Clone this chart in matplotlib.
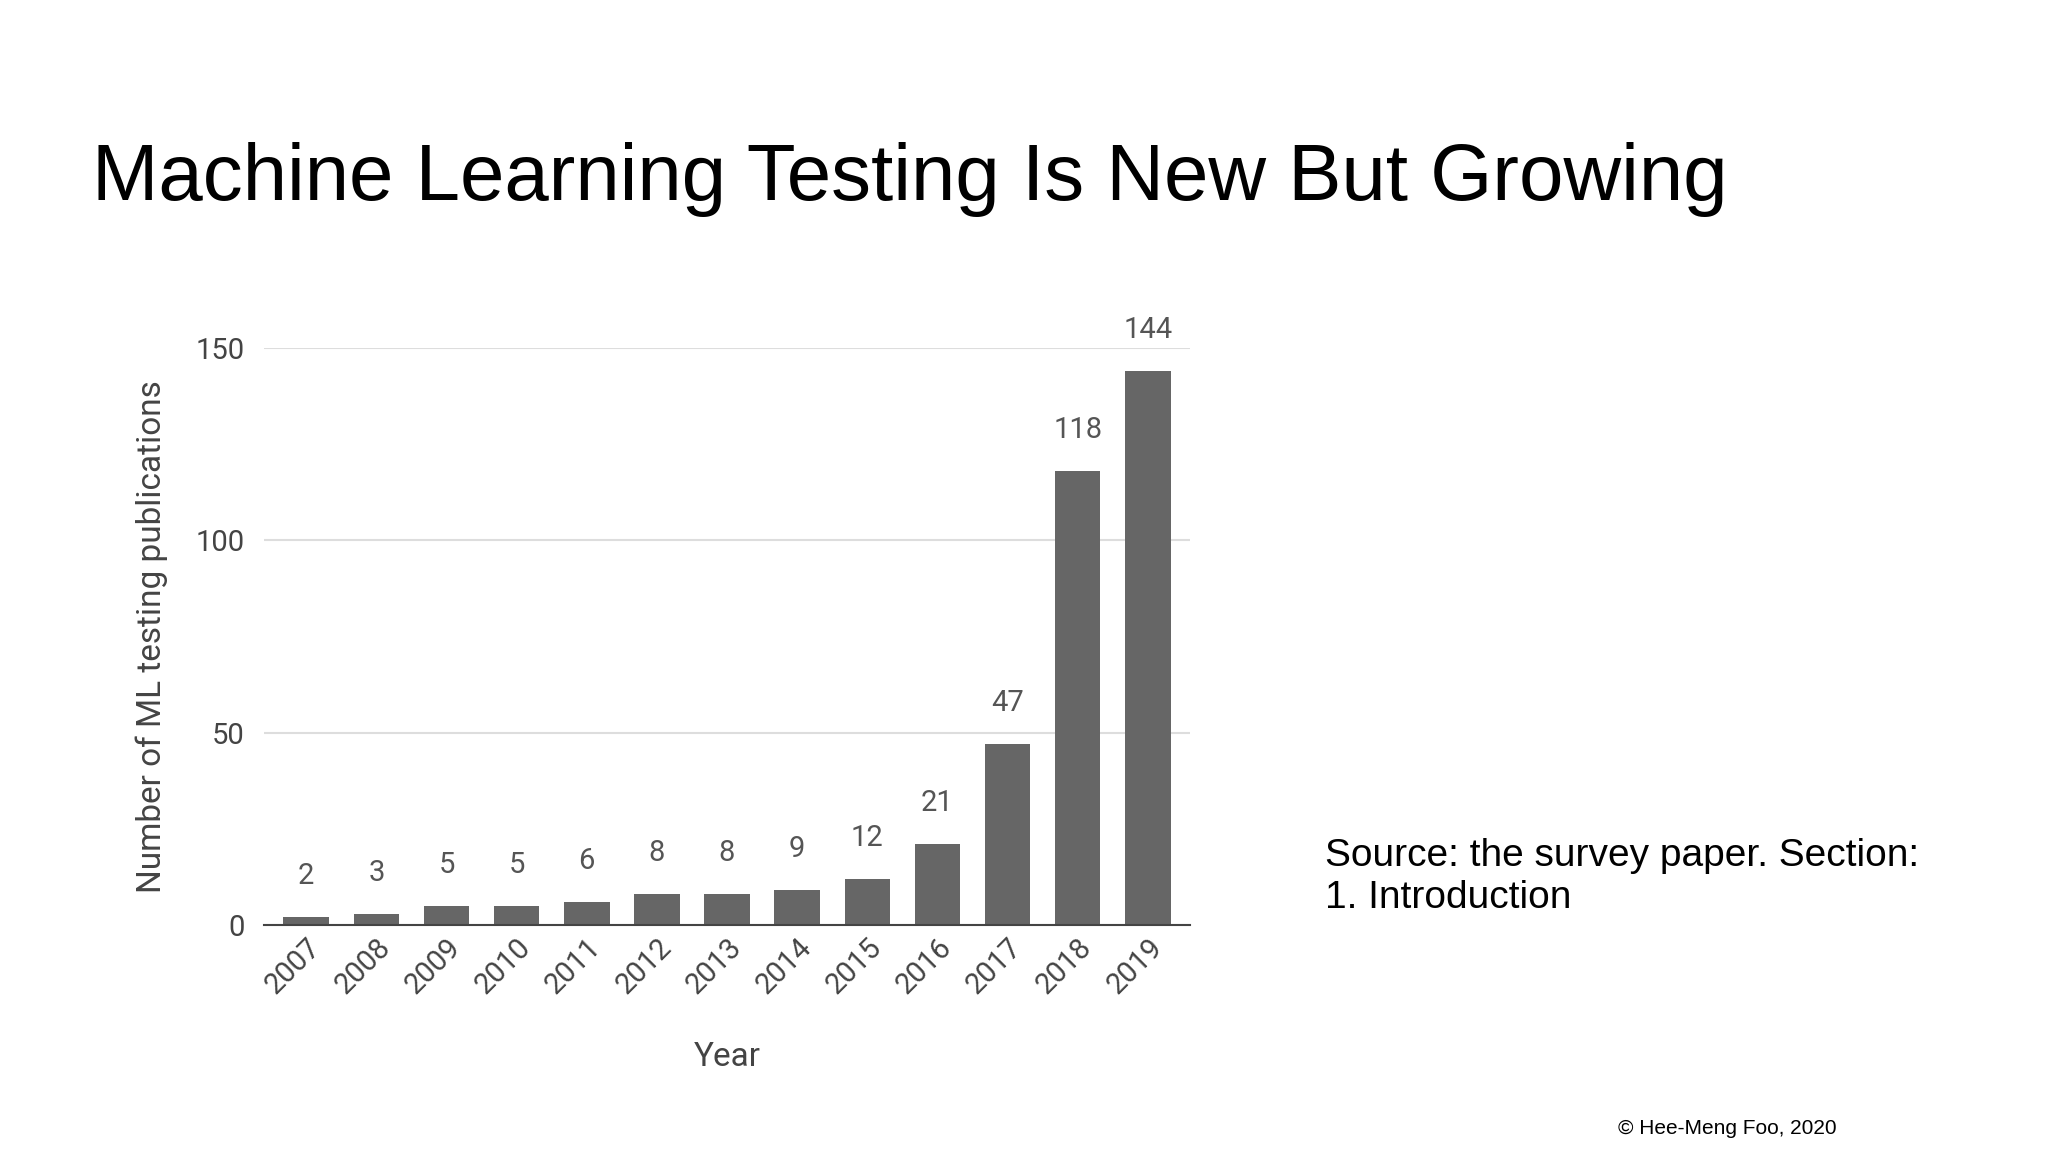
import matplotlib
matplotlib.use("Agg")
import matplotlib.pyplot as plt

years = ["2007", "2008", "2009", "2010", "2011", "2012", "2013",
         "2014", "2015", "2016", "2017", "2018", "2019"]
counts = [2, 3, 5, 5, 6, 8, 8, 9, 12, 21, 47, 118, 144]
yticks = [0, 50, 100, 150]

plt.rcParams['font.family'] = ['Roboto', 'DejaVu Sans']
fig = plt.figure(figsize=(20.48, 11.52), dpi=100)
fig.text(0.045, 0.826, "Machine Learning Testing Is New But Growing",
         fontsize=57.5, family='Liberation Sans', va='baseline')
fig.text(0.647, 0.205, "Source: the survey paper. Section:\n1. Introduction",
         fontsize=28, family='Liberation Sans', va='bottom', linespacing=1.2)
fig.text(0.79, 0.012, "© Hee-Meng Foo, 2020", fontsize=15,
         family='Liberation Sans', va='bottom')

ax = fig.add_axes([0.129, 0.197, 0.452, 0.501])
bars = ax.bar(years, counts, width=0.65, color='#666666', zorder=2)
for b, v in zip(bars, counts):
    ax.text(b.get_x() + b.get_width() / 2, v + 7, str(v), ha='center',
            va='bottom', fontsize=21, color='#555555', clip_on=False)
ax.set_ylim(0, 150)
ax.set_xlim(-0.6, len(years) - 0.4)
ax.set_yticks(yticks)
ax.grid(axis='y', color='#dddddd', linewidth=1.5, zorder=0)
for s in ['top', 'right', 'left']:
    ax.spines[s].set_visible(False)
ax.spines['bottom'].set_color('#444444')
ax.spines['bottom'].set_linewidth(1.5)
ax.tick_params(axis='y', length=0, labelsize=21, labelcolor='#444444', pad=14)
ax.tick_params(axis='x', length=0, labelsize=21, labelcolor='#444444', pad=6)
plt.setp(ax.get_xticklabels(), rotation=45, ha='right', rotation_mode='anchor')
ax.set_xlabel("Year", fontsize=24, color='#444444', labelpad=30)
ax.set_ylabel("Number of ML testing publications", fontsize=24,
              color='#444444', labelpad=20)

fig.savefig("out.png", dpi=100, facecolor='white')
